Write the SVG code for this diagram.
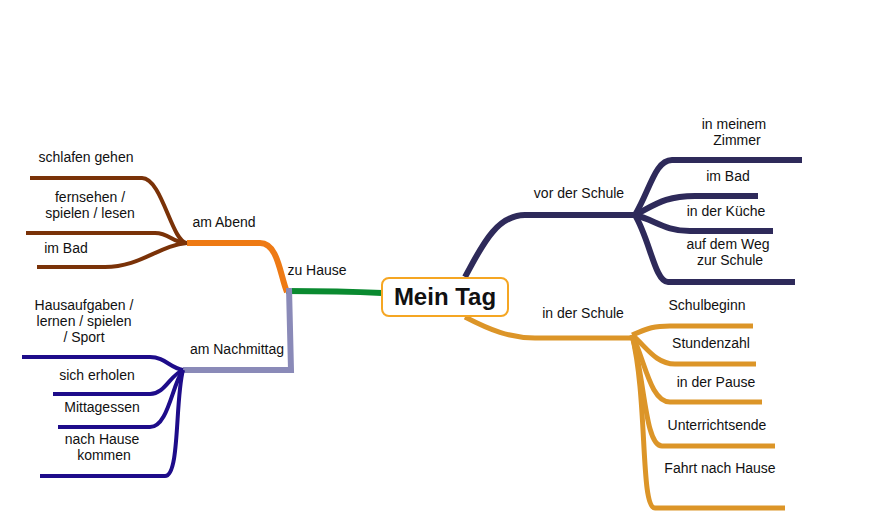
<svg xmlns="http://www.w3.org/2000/svg" width="890" height="530" viewBox="0 0 890 530">
<style>
text{font-family:"Liberation Sans",Arial,sans-serif;font-size:14px;fill:#111;text-anchor:middle}
path{fill:none;stroke-linecap:butt}
.vs{stroke:#2e2a5a;stroke-width:6}
.is{stroke:#dc9528;stroke-width:5}
.ab{stroke:#7a3208;stroke-width:4}
.nm{stroke:#1e0c8a;stroke-width:4}
</style>
<rect width="890" height="530" fill="#fff"/>
<g id="connectors">
<path d="M382,293 C340,291 320,291 286,291" stroke="#0a8a30" stroke-width="6"/>
<path d="M287,292 C280,275 278,243 260,243 L187,243" stroke="#ee7a14" stroke-width="6"/>
<path d="M289,288 L291,370 L183,370" stroke="#8a8ab8" stroke-width="6"/>
<path class="ab" d="M187,243 C172,243 162,178 142,178 L30,178"/>
<path class="ab" d="M187,243 C172,243 170,233 155,233 L26,233"/>
<path class="ab" d="M187,243 C160,245 140,267 105,267 L37,267"/>
<path class="nm" d="M183,370 C170,368 165,357 150,357 L22,357"/>
<path class="nm" d="M183,370 C170,375 165,394 150,394 L53,394"/>
<path class="nm" d="M183,370 C172,385 168,427 150,427 L58,427"/>
<path class="nm" d="M183,370 C175,400 180,476 165,476 L40,476"/>
<path class="vs" d="M465,277 C480,250 495,215 525,215 L635,215"/>
<path class="vs" d="M635,215 C650,190 655,160 672,160 L802,160"/>
<path class="vs" d="M635,215 C655,205 665,196 695,196 L758,196"/>
<path class="vs" d="M635,215 C655,220 665,231 690,231 L773,231"/>
<path class="vs" d="M635,215 C650,240 655,282 668,282 L795,282"/>
<path class="is" d="M465,317 C490,330 510,338 535,338 L632,338"/>
<path class="is" d="M632,335 C645,330 650,326 670,326 L753,326"/>
<path class="is" d="M632,335 C645,345 655,364 675,364 L756,364"/>
<path class="is" d="M632,335 C645,360 650,402 670,402 L762,402"/>
<path class="is" d="M632,335 C645,380 645,446 662,446 L775,446"/>
<path class="is" d="M632,335 C648,400 640,508 655,508 L785,508"/>
</g>
<g id="mein-tag"><rect x="382" y="278" width="126" height="38" rx="7" fill="#fff" stroke="#f5a623" stroke-width="2"/><text x="445" y="305" style="font-size:24px;font-weight:bold">Mein Tag</text></g>
<g id="zu-hause"><text x="317" y="275">zu Hause</text></g>
<g id="am-abend"><text x="224" y="227">am Abend</text></g>
<g id="schlafen"><text x="86" y="162">schlafen gehen</text></g>
<g id="fernsehen"><text x="90" y="202">fernsehen  /</text><text x="90" y="218">spielen  /  lesen</text></g>
<g id="im-bad-l"><text x="66" y="253">im Bad</text></g>
<g id="am-nachmittag"><text x="237" y="354">am Nachmittag</text></g>
<g id="hausaufgaben"><text x="84" y="310">Hausaufgaben  /</text><text x="84" y="326">lernen  /  spielen</text><text x="84" y="342">/  Sport</text></g>
<g id="erholen"><text x="97" y="380">sich erholen</text></g>
<g id="mittagessen"><text x="102" y="412">Mittagessen</text></g>
<g id="nach-hause"><text x="102" y="444">nach  Hause</text><text x="104" y="460">kommen</text></g>
<g id="vor-der-schule"><text x="579" y="198">vor der Schule</text></g>
<g id="zimmer"><text x="734" y="129">in  meinem</text><text x="737" y="145">Zimmer</text></g>
<g id="im-bad-r"><text x="728" y="181">im Bad</text></g>
<g id="kueche"><text x="726" y="216">in der Küche</text></g>
<g id="weg"><text x="728" y="249">auf  dem  Weg</text><text x="730" y="265">zur  Schule</text></g>
<g id="in-der-schule"><text x="583" y="318">in der Schule</text></g>
<g id="schulbeginn"><text x="707" y="310">Schulbeginn</text></g>
<g id="stundenzahl"><text x="711" y="348">Stundenzahl</text></g>
<g id="pause"><text x="716" y="387">in der Pause</text></g>
<g id="unterrichtsende"><text x="717" y="430">Unterrichtsende</text></g>
<g id="fahrt"><text x="720" y="473">Fahrt nach Hause</text></g>
</svg>
